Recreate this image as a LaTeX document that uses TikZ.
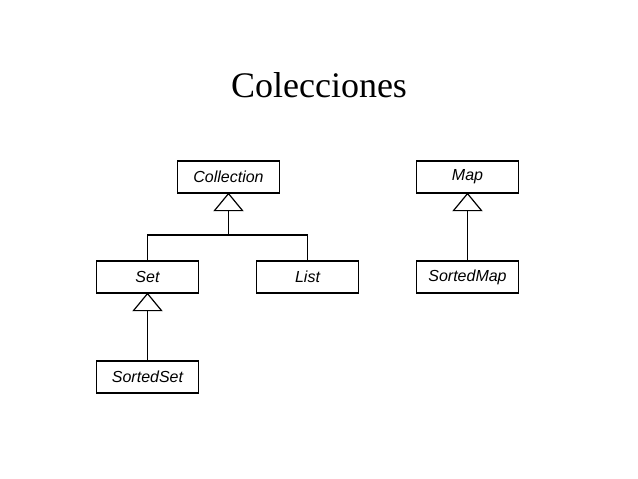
\documentclass[tikz,border=0pt]{standalone}
\usepackage{fontspec}
\setmainfont{Liberation Serif}
\newfontfamily\boxfont{Liberation Sans}
\begin{document}
\begin{tikzpicture}[x=0.75pt,y=-0.75pt,
  cls/.style={draw,line width=0.9pt,minimum width=102*0.75pt,minimum height=32*0.75pt,inner sep=0pt,font=\boxfont\itshape\fontsize{12}{14}\selectfont},
  conn/.style={line width=0.9pt}]
\useasboundingbox (0,0) rectangle (638,478);
\node[font=\fontsize{27}{32}\selectfont] (title) at (319,85) {Colecciones};
\node[cls] (coll) at (228.5,177) {Collection};
\node[cls] (map) at (467.5,177) {Map};
\node[cls] (set) at (147.5,277) {Set};
\node[cls] (list) at (307.5,277) {List};
\node[cls] (smap) at (467.5,277) {SortedMap};
\node[cls] (sset) at (147.5,377) {SortedSet};
\foreach \n in {coll,map,set}{
  \draw[conn] (\n.south) -- ++(-14,17) coordinate (\n L) -- ++(28,0) -- cycle;
  \coordinate (\n T) at ([yshift=-17*0.75pt]\n.south);
}
\coordinate (j1) at (set.north |- 0,235);
\coordinate (j2) at (list.north |- 0,235);
\draw[conn] (collT) -- (collT |- j1);
\draw[conn] (set.north) -- (j1) -- (j2) -- (list.north);
\draw[conn] (mapT) -- (smap.north);
\draw[conn] (setT) -- (sset.north);
\end{tikzpicture}
\end{document}
